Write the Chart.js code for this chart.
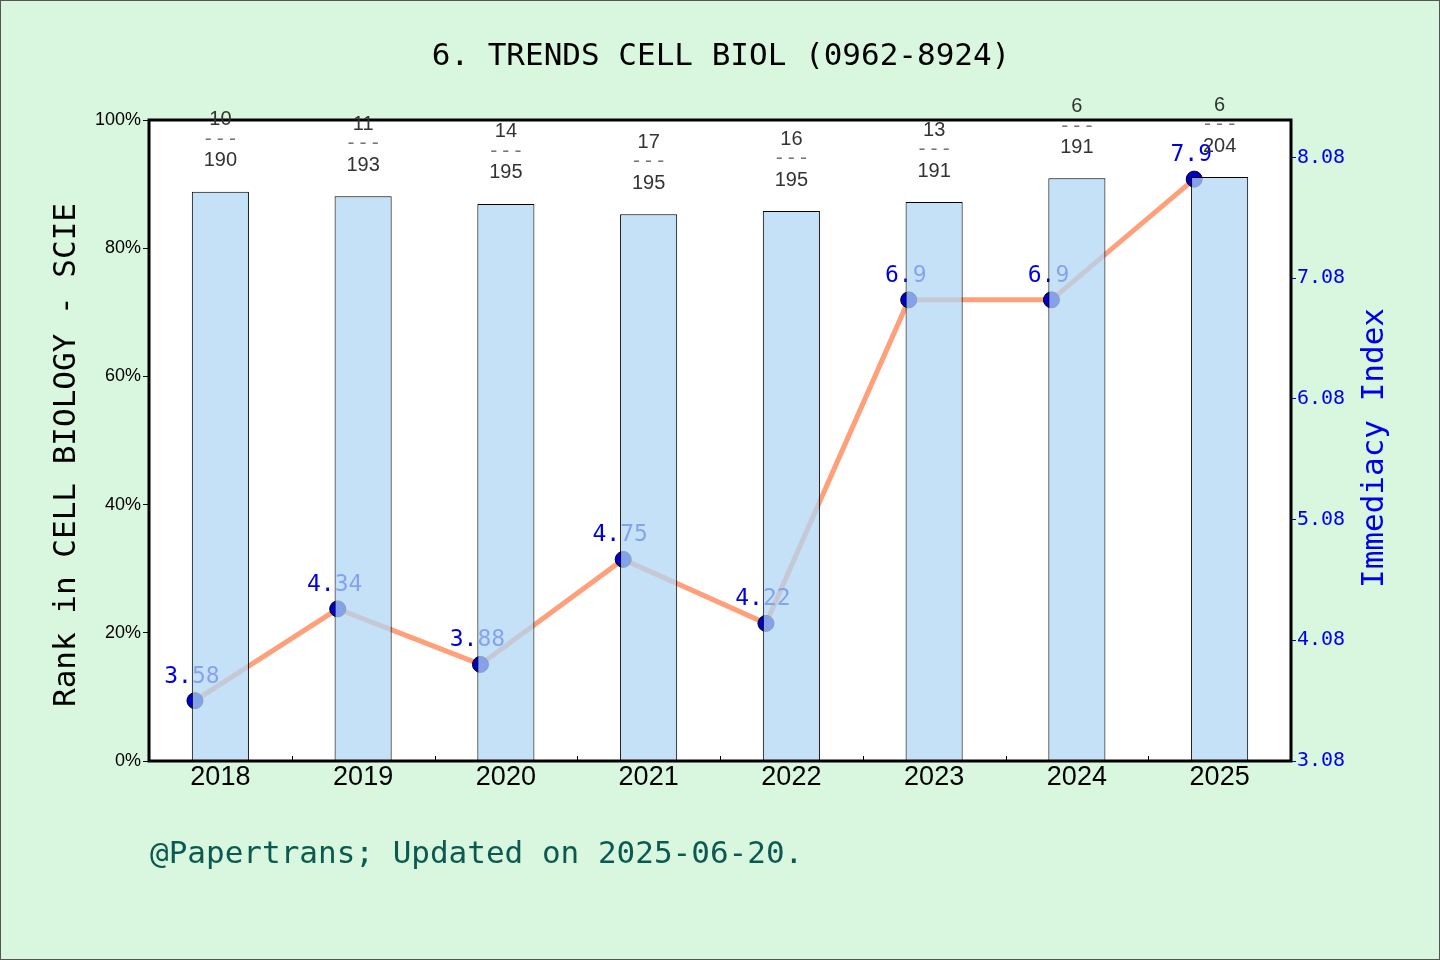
<!DOCTYPE html>
<html>
<head>
<meta charset="utf-8">
<script src="https://cdn.jsdelivr.net/npm/chart.js@4.4.1/dist/chart.umd.min.js"></script>
<style>
  html, body { margin: 0; padding: 0; background: #d9f7df; }
  canvas { display: block; }
</style>
</head>
<body>
<canvas id="chart" width="1440" height="960"></canvas>
<script>
// ---- data ----
const years = ["2018", "2019", "2020", "2021", "2022", "2023", "2024", "2025"];
const rankPercent = [88.8, 88.1, 86.9, 85.3, 85.8, 87.2, 90.9, 91.1];
const ranks = [10, 11, 14, 17, 16, 13, 6, 6];
const totals = [190, 193, 195, 195, 195, 191, 191, 204];
const immediacy = [3.58, 4.34, 3.88, 4.75, 4.22, 6.9, 6.9, 7.9];
const leftTicks = [0, 20, 40, 60, 80, 100];
const rightTicks = [3.08, 4.08, 5.08, 6.08, 7.08, 8.08];

const MONO = '"DejaVu Sans Mono", "Liberation Mono", monospace';
const SANS = '"Liberation Sans", Arial, sans-serif';

// background, titles and frame
const decor = {
    id: "decor",
    beforeDraw(chart) {
        const ctx = chart.ctx;
        ctx.save();
        ctx.fillStyle = "#d9f7df";
        ctx.fillRect(0, 0, chart.width, chart.height);
        ctx.strokeStyle = "#555";
        ctx.lineWidth = 1;
        ctx.strokeRect(0.5, 0.5, chart.width - 1, chart.height - 1);
        const a = chart.chartArea;
        ctx.fillStyle = "#ffffff";
        ctx.fillRect(a.left, a.top, a.right - a.left, a.bottom - a.top);
        ctx.restore();
    },
    afterDraw(chart) {
        const ctx = chart.ctx;
        const a = chart.chartArea;
        ctx.save();
        // frame
        ctx.strokeStyle = "#000";
        ctx.lineWidth = 3;
        ctx.strokeRect(a.left, a.top, a.right - a.left, a.bottom - a.top);

        // small ticks between categories on the bottom axis
        const xs = chart.scales.x;
        ctx.lineWidth = 1;
        ctx.beginPath();
        for (let i = 1; i < years.length; i++) {
            const px = Math.round((xs.getPixelForTick(i - 1) + xs.getPixelForTick(i)) / 2) + 0.5;
            ctx.moveTo(px, a.bottom);
            ctx.lineTo(px, a.bottom - 5);
        }
        ctx.stroke();

        // title
        ctx.fillStyle = "#000";
        ctx.font = "31px " + MONO;
        ctx.textAlign = "center";
        ctx.textBaseline = "middle";
        ctx.fillText("6. TRENDS CELL BIOL (0962-8924)", 721, 57);

        // footer
        ctx.fillStyle = "#0b5a52";
        ctx.textAlign = "left";
        ctx.fillText("@Papertrans; Updated on 2025-06-20.", 150, 855);

        // left axis title
        ctx.save();
        ctx.translate(67, 455);
        ctx.rotate(-Math.PI / 2);
        ctx.fillStyle = "#000";
        ctx.textAlign = "center";
        ctx.fillText("Rank in CELL BIOLOGY - SCIE", 0, 0);
        ctx.restore();

        // right axis title
        ctx.save();
        ctx.translate(1375, 448);
        ctx.rotate(-Math.PI / 2);
        ctx.fillStyle = "#0000ee";
        ctx.textAlign = "center";
        ctx.fillText("Immediacy Index", 0, 0);
        ctx.restore();

        // rank / total above each bar
        const bars = chart.getDatasetMeta(0).data;
        bars.forEach((bar, i) => {
            const x = bar.x, top = bar.y;
            ctx.textAlign = "center";
            ctx.textBaseline = "middle";
            ctx.fillStyle = "#333";
            ctx.font = "20px " + SANS;
            ctx.fillText(String(totals[i]), x, top - 31);
            ctx.fillText(String(ranks[i]), x, top - 72);
            ctx.fillStyle = "#777";
            ctx.font = "20px " + MONO;
            ctx.fillText("---", x, top - 52);
        });
        ctx.restore();
    },
    afterDatasetDraw(chart, args) {
        // labels of the line go under the semi-transparent bars
        if (args.index !== 1) return;
        const ctx = chart.ctx;
        ctx.save();
        ctx.fillStyle = "#0000dd";
        ctx.font = "23px " + MONO;
        ctx.textAlign = "center";
        ctx.textBaseline = "middle";
        chart.getDatasetMeta(1).data.forEach((pt, i) => {
            ctx.fillText(String(immediacy[i]), pt.x - 3, pt.y - 24);
        });
        ctx.restore();
    }
};

new Chart(document.getElementById("chart"), {
    data: {
        labels: years,
        datasets: [
            {
                type: "bar",
                label: "Rank",
                data: rankPercent,
                yAxisID: "y",
                xAxisID: "x",
                grouped: false,
                backgroundColor: "rgba(178, 215, 244, 0.75)",
                borderColor: "#000",
                borderWidth: 1,
                barPercentage: 0.4,
                categoryPercentage: 1.0,
                order: 0
            },
            {
                type: "line",
                label: "Immediacy Index",
                data: immediacy.map((v, i) => ({ x: i, y: v })),
                yAxisID: "y2",
                xAxisID: "x2",
                borderColor: "#ffa07a",
                borderWidth: 5,
                pointRadius: 8,
                pointBackgroundColor: "#0000cc",
                pointBorderColor: "#000",
                pointBorderWidth: 1,
                tension: 0,
                order: 1
            }
        ]
    },
    options: {
        responsive: false,
        animation: false,
        devicePixelRatio: 1,
        layout: { padding: { top: 120, left: 0, right: 0, bottom: 0 } },
        plugins: {
            legend: { display: false },
            tooltip: { enabled: false },
            title: { display: false }
        },
        scales: {
            x: {
                type: "category",
                position: "bottom",
                offset: true,
                grid: { display: false },
                border: { display: false },
                ticks: {
                    color: "#000",
                    font: { family: SANS, size: 27 },
                    padding: -8,
                    maxRotation: 0
                },
                afterFit(s) { s.height = 960 - 761; }
            },
            x2: {
                type: "linear",
                display: false,
                min: -0.322,
                max: 7.678
            },
            y: {
                position: "left",
                min: 0,
                max: 100,
                afterBuildTicks(s) { s.ticks = leftTicks.map(v => ({ value: v })); },
                grid: { drawOnChartArea: false, color: "#000", tickLength: 6, tickWidth: 1 },
                border: { display: false },
                ticks: {
                    color: "#000",
                    font: { family: SANS, size: 18 },
                    padding: 2,
                    callback: v => v + "%"
                },
                afterFit(s) { s.width = 149; }
            },
            y2: {
                position: "right",
                min: 3.08,
                max: 8.39,
                afterBuildTicks(s) { s.ticks = rightTicks.map(v => ({ value: v })); },
                grid: { drawOnChartArea: false, color: "#0000ee", tickLength: 5, tickWidth: 1 },
                border: { display: false },
                ticks: {
                    color: "#0000ee",
                    font: { family: MONO, size: 20 },
                    padding: 1,
                    callback: v => v.toFixed(2)
                },
                afterFit(s) { s.width = 1440 - 1291; }
            }
        }
    },
    plugins: [decor]
});
</script>
</body>
</html>
